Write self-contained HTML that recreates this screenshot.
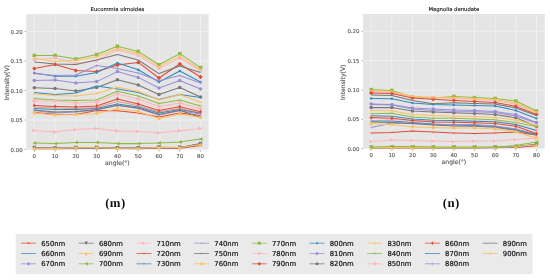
<!DOCTYPE html>
<html lang="en"><head><meta charset="utf-8"><title>Intensity vs angle</title>
<style>html,body{margin:0;padding:0;background:#fff}svg{display:block}text{text-rendering:geometricPrecision}.lt{stroke:#111;stroke-width:.18px}.ax text{stroke:#555;stroke-width:.12px}.ax text.tt{stroke:#111}</style></head>
<body>
<svg width="550" height="280" viewBox="0 0 550 280">
<rect width="550" height="280" fill="#fff"/>
<rect x="26.2" y="14.1" width="182.4" height="135.9" fill="#E5E5E5"/>
<path d="M34.3 14.1V150M55.08 14.1V150M75.86 14.1V150M96.64 14.1V150M117.42 14.1V150M138.2 14.1V150M158.98 14.1V150M179.76 14.1V150M200.54 14.1V150M26.2 149.5H208.6M26.2 120H208.6M26.2 90.5H208.6M26.2 61H208.6M26.2 31.5H208.6" stroke="#fff" stroke-width="0.45" stroke-opacity="0.9" fill="none"/>
<path d="M34.3 150v1.6M55.08 150v1.6M75.86 150v1.6M96.64 150v1.6M117.42 150v1.6M138.2 150v1.6M158.98 150v1.6M179.76 150v1.6M200.54 150v1.6M26.2 149.5h-1.6M26.2 120h-1.6M26.2 90.5h-1.6M26.2 61h-1.6M26.2 31.5h-1.6" stroke="#555" stroke-width="0.45" fill="none"/>
<g clip-path="none">
<polyline points="34.3,148.6 55.08,148.7 75.86,148.4 96.64,148.4 117.42,148.6 138.2,148.6 158.98,148.2 179.76,148.3 200.54,145.5" fill="none" stroke="#E24A33" stroke-width="1.05" stroke-linejoin="round"/><circle cx="34.3" cy="148.6" r="1.05" fill="#E24A33"/><circle cx="55.08" cy="148.7" r="1.05" fill="#E24A33"/><circle cx="75.86" cy="148.4" r="1.05" fill="#E24A33"/><circle cx="96.64" cy="148.4" r="1.05" fill="#E24A33"/><circle cx="117.42" cy="148.6" r="1.05" fill="#E24A33"/><circle cx="138.2" cy="148.6" r="1.05" fill="#E24A33"/><circle cx="158.98" cy="148.2" r="1.05" fill="#E24A33"/><circle cx="179.76" cy="148.3" r="1.05" fill="#E24A33"/><circle cx="200.54" cy="145.5" r="1.05" fill="#E24A33"/>
<polyline points="34.3,148.3 55.08,148.4 75.86,148 96.64,148 117.42,148.3 138.2,148.3 158.98,147.6 179.76,147.8 200.54,143.4" fill="none" stroke="#348ABD" stroke-width="1.05" stroke-linejoin="round"/>
<polyline points="34.3,148 55.08,148.2 75.86,147.8 96.64,147.8 117.42,148.1 138.2,148.1 158.98,147.4 179.76,147.6 200.54,144" fill="none" stroke="#988ED5" stroke-width="1.05" stroke-linejoin="round"/><circle cx="34.3" cy="148" r="1.75" fill="#988ED5"/><circle cx="55.08" cy="148.2" r="1.75" fill="#988ED5"/><circle cx="75.86" cy="147.8" r="1.75" fill="#988ED5"/><circle cx="96.64" cy="147.8" r="1.75" fill="#988ED5"/><circle cx="117.42" cy="148.1" r="1.75" fill="#988ED5"/><circle cx="138.2" cy="148.1" r="1.75" fill="#988ED5"/><circle cx="158.98" cy="147.4" r="1.75" fill="#988ED5"/><circle cx="179.76" cy="147.6" r="1.75" fill="#988ED5"/><circle cx="200.54" cy="144" r="1.75" fill="#988ED5"/>
<polyline points="34.3,147.8 55.08,148.1 75.86,147.6 96.64,147.6 117.42,148 138.2,148 158.98,147.3 179.76,147.5 200.54,143.8" fill="none" stroke="#777777" stroke-width="1.05" stroke-linejoin="round"/><polygon points="32.34,145.84 36.26,145.84 34.3,149.76" fill="#777777"/><polygon points="53.12,146.14 57.04,146.14 55.08,150.06" fill="#777777"/><polygon points="73.9,145.64 77.82,145.64 75.86,149.56" fill="#777777"/><polygon points="94.68,145.64 98.6,145.64 96.64,149.56" fill="#777777"/><polygon points="115.46,146.04 119.38,146.04 117.42,149.96" fill="#777777"/><polygon points="136.24,146.04 140.16,146.04 138.2,149.96" fill="#777777"/><polygon points="157.02,145.34 160.94,145.34 158.98,149.26" fill="#777777"/><polygon points="177.8,145.54 181.72,145.54 179.76,149.46" fill="#777777"/><polygon points="198.58,141.84 202.5,141.84 200.54,145.76" fill="#777777"/>
<polyline points="34.3,148.2 55.08,148.4 75.86,147.7 96.64,147.8 117.42,148.2 138.2,148.2 158.98,147.4 179.76,147.6 200.54,144.6" fill="none" stroke="#FBC15E" stroke-width="1.05" stroke-linejoin="round"/><polygon points="32.34,150.16 36.26,150.16 34.3,146.24" fill="#FBC15E"/><polygon points="53.12,150.36 57.04,150.36 55.08,146.44" fill="#FBC15E"/><polygon points="73.9,149.66 77.82,149.66 75.86,145.74" fill="#FBC15E"/><polygon points="94.68,149.76 98.6,149.76 96.64,145.84" fill="#FBC15E"/><polygon points="115.46,150.16 119.38,150.16 117.42,146.24" fill="#FBC15E"/><polygon points="136.24,150.16 140.16,150.16 138.2,146.24" fill="#FBC15E"/><polygon points="157.02,149.36 160.94,149.36 158.98,145.44" fill="#FBC15E"/><polygon points="177.8,149.56 181.72,149.56 179.76,145.64" fill="#FBC15E"/><polygon points="198.58,146.56 202.5,146.56 200.54,142.64" fill="#FBC15E"/>
<polyline points="34.3,143 55.08,143.6 75.86,142.4 96.64,142.4 117.42,143.6 138.2,143.6 158.98,143 179.76,142 200.54,139" fill="none" stroke="#8EBA42" stroke-width="1.05" stroke-linejoin="round"/><polygon points="36.26,141.04 36.26,144.96 32.34,143" fill="#8EBA42"/><polygon points="57.04,141.64 57.04,145.56 53.12,143.6" fill="#8EBA42"/><polygon points="77.82,140.44 77.82,144.36 73.9,142.4" fill="#8EBA42"/><polygon points="98.6,140.44 98.6,144.36 94.68,142.4" fill="#8EBA42"/><polygon points="119.38,141.64 119.38,145.56 115.46,143.6" fill="#8EBA42"/><polygon points="140.16,141.64 140.16,145.56 136.24,143.6" fill="#8EBA42"/><polygon points="160.94,141.04 160.94,144.96 157.02,143" fill="#8EBA42"/><polygon points="181.72,140.04 181.72,143.96 177.8,142" fill="#8EBA42"/><polygon points="202.5,137.04 202.5,140.96 198.58,139" fill="#8EBA42"/>
<polyline points="34.3,130.4 55.08,132 75.86,129.6 96.64,128.6 117.42,131 138.2,131.6 158.98,132.8 179.76,130.8 200.54,128.5" fill="none" stroke="#FFB5B8" stroke-width="1.05" stroke-linejoin="round"/><polygon points="32.34,128.44 32.34,132.36 36.26,130.4" fill="#FFB5B8"/><polygon points="53.12,130.04 53.12,133.96 57.04,132" fill="#FFB5B8"/><polygon points="73.9,127.64 73.9,131.56 77.82,129.6" fill="#FFB5B8"/><polygon points="94.68,126.64 94.68,130.56 98.6,128.6" fill="#FFB5B8"/><polygon points="115.46,129.04 115.46,132.96 119.38,131" fill="#FFB5B8"/><polygon points="136.24,129.64 136.24,133.56 140.16,131.6" fill="#FFB5B8"/><polygon points="157.02,130.84 157.02,134.76 160.94,132.8" fill="#FFB5B8"/><polygon points="177.8,128.84 177.8,132.76 181.72,130.8" fill="#FFB5B8"/><polygon points="198.58,126.54 198.58,130.46 202.5,128.5" fill="#FFB5B8"/>
<polyline points="34.3,112.4 55.08,114.2 75.86,114.4 96.64,110.6 117.42,110.8 138.2,113 158.98,117 179.76,113 200.54,115.6" fill="none" stroke="#E24A33" stroke-width="1.05" stroke-linejoin="round"/><path d="M34.3 112.4V114.15M34.3 112.4L32.9 111.53M34.3 112.4L35.7 111.53" stroke="#E24A33" stroke-width="0.35" fill="none"/><path d="M55.08 114.2V115.95M55.08 114.2L53.68 113.33M55.08 114.2L56.48 113.33" stroke="#E24A33" stroke-width="0.35" fill="none"/><path d="M75.86 114.4V116.15M75.86 114.4L74.46 113.53M75.86 114.4L77.26 113.53" stroke="#E24A33" stroke-width="0.35" fill="none"/><path d="M96.64 110.6V112.35M96.64 110.6L95.24 109.72M96.64 110.6L98.04 109.72" stroke="#E24A33" stroke-width="0.35" fill="none"/><path d="M117.42 110.8V112.55M117.42 110.8L116.02 109.92M117.42 110.8L118.82 109.92" stroke="#E24A33" stroke-width="0.35" fill="none"/><path d="M138.2 113V114.75M138.2 113L136.8 112.12M138.2 113L139.6 112.12" stroke="#E24A33" stroke-width="0.35" fill="none"/><path d="M158.98 117V118.75M158.98 117L157.58 116.12M158.98 117L160.38 116.12" stroke="#E24A33" stroke-width="0.35" fill="none"/><path d="M179.76 113V114.75M179.76 113L178.36 112.12M179.76 113L181.16 112.12" stroke="#E24A33" stroke-width="0.35" fill="none"/><path d="M200.54 115.6V117.35M200.54 115.6L199.14 114.72M200.54 115.6L201.94 114.72" stroke="#E24A33" stroke-width="0.35" fill="none"/>
<polyline points="34.3,108.6 55.08,109.6 75.86,109.4 96.64,108.6 117.42,104 138.2,107 158.98,113 179.76,109.5 200.54,113.2" fill="none" stroke="#348ABD" stroke-width="1.05" stroke-linejoin="round"/><path d="M34.3 108.6V110.35M34.3 108.6L32.9 107.72M34.3 108.6L35.7 107.72" stroke="#348ABD" stroke-width="0.35" fill="none"/><path d="M55.08 109.6V111.35M55.08 109.6L53.68 108.72M55.08 109.6L56.48 108.72" stroke="#348ABD" stroke-width="0.35" fill="none"/><path d="M75.86 109.4V111.15M75.86 109.4L74.46 108.53M75.86 109.4L77.26 108.53" stroke="#348ABD" stroke-width="0.35" fill="none"/><path d="M96.64 108.6V110.35M96.64 108.6L95.24 107.72M96.64 108.6L98.04 107.72" stroke="#348ABD" stroke-width="0.35" fill="none"/><path d="M117.42 104V105.75M117.42 104L116.02 103.12M117.42 104L118.82 103.12" stroke="#348ABD" stroke-width="0.35" fill="none"/><path d="M138.2 107V108.75M138.2 107L136.8 106.12M138.2 107L139.6 106.12" stroke="#348ABD" stroke-width="0.35" fill="none"/><path d="M158.98 113V114.75M158.98 113L157.58 112.12M158.98 113L160.38 112.12" stroke="#348ABD" stroke-width="0.35" fill="none"/><path d="M179.76 109.5V111.25M179.76 109.5L178.36 108.62M179.76 109.5L181.16 108.62" stroke="#348ABD" stroke-width="0.35" fill="none"/><path d="M200.54 113.2V114.95M200.54 113.2L199.14 112.33M200.54 113.2L201.94 112.33" stroke="#348ABD" stroke-width="0.35" fill="none"/>
<polyline points="34.3,110.6 55.08,113 75.86,112 96.64,110 117.42,105 138.2,108.6 158.98,115 179.76,110.8 200.54,114" fill="none" stroke="#988ED5" stroke-width="1.05" stroke-linejoin="round"/><path d="M34.3 110.6V112.35M34.3 110.6L32.9 109.72M34.3 110.6L35.7 109.72" stroke="#988ED5" stroke-width="0.35" fill="none"/><path d="M55.08 113V114.75M55.08 113L53.68 112.12M55.08 113L56.48 112.12" stroke="#988ED5" stroke-width="0.35" fill="none"/><path d="M75.86 112V113.75M75.86 112L74.46 111.12M75.86 112L77.26 111.12" stroke="#988ED5" stroke-width="0.35" fill="none"/><path d="M96.64 110V111.75M96.64 110L95.24 109.12M96.64 110L98.04 109.12" stroke="#988ED5" stroke-width="0.35" fill="none"/><path d="M117.42 105V106.75M117.42 105L116.02 104.12M117.42 105L118.82 104.12" stroke="#988ED5" stroke-width="0.35" fill="none"/><path d="M138.2 108.6V110.35M138.2 108.6L136.8 107.72M138.2 108.6L139.6 107.72" stroke="#988ED5" stroke-width="0.35" fill="none"/><path d="M158.98 115V116.75M158.98 115L157.58 114.12M158.98 115L160.38 114.12" stroke="#988ED5" stroke-width="0.35" fill="none"/><path d="M179.76 110.8V112.55M179.76 110.8L178.36 109.92M179.76 110.8L181.16 109.92" stroke="#988ED5" stroke-width="0.35" fill="none"/><path d="M200.54 114V115.75M200.54 114L199.14 113.12M200.54 114L201.94 113.12" stroke="#988ED5" stroke-width="0.35" fill="none"/>
<polyline points="34.3,110 55.08,112 75.86,111.6 96.64,109.6 117.42,105.6 138.2,108 158.98,114.4 179.76,110.3 200.54,117.5" fill="none" stroke="#777777" stroke-width="1.05" stroke-linejoin="round"/><path d="M34.3 110V111.75M34.3 110L32.9 109.12M34.3 110L35.7 109.12" stroke="#777777" stroke-width="0.35" fill="none"/><path d="M55.08 112V113.75M55.08 112L53.68 111.12M55.08 112L56.48 111.12" stroke="#777777" stroke-width="0.35" fill="none"/><path d="M75.86 111.6V113.35M75.86 111.6L74.46 110.72M75.86 111.6L77.26 110.72" stroke="#777777" stroke-width="0.35" fill="none"/><path d="M96.64 109.6V111.35M96.64 109.6L95.24 108.72M96.64 109.6L98.04 108.72" stroke="#777777" stroke-width="0.35" fill="none"/><path d="M117.42 105.6V107.35M117.42 105.6L116.02 104.72M117.42 105.6L118.82 104.72" stroke="#777777" stroke-width="0.35" fill="none"/><path d="M138.2 108V109.75M138.2 108L136.8 107.12M138.2 108L139.6 107.12" stroke="#777777" stroke-width="0.35" fill="none"/><path d="M158.98 114.4V116.15M158.98 114.4L157.58 113.53M158.98 114.4L160.38 113.53" stroke="#777777" stroke-width="0.35" fill="none"/><path d="M179.76 110.3V112.05M179.76 110.3L178.36 109.42M179.76 110.3L181.16 109.42" stroke="#777777" stroke-width="0.35" fill="none"/><path d="M200.54 117.5V119.25M200.54 117.5L199.14 116.62M200.54 117.5L201.94 116.62" stroke="#777777" stroke-width="0.35" fill="none"/>
<polyline points="34.3,113 55.08,115 75.86,114.6 96.64,113.4 117.42,108.8 138.2,111.6 158.98,118.5 179.76,113.9 200.54,117.6" fill="none" stroke="#FBC15E" stroke-width="1.05" stroke-linejoin="round"/><circle cx="34.3" cy="113" r="1.75" fill="#FBC15E"/><circle cx="55.08" cy="115" r="1.75" fill="#FBC15E"/><circle cx="75.86" cy="114.6" r="1.75" fill="#FBC15E"/><circle cx="96.64" cy="113.4" r="1.75" fill="#FBC15E"/><circle cx="117.42" cy="108.8" r="1.75" fill="#FBC15E"/><circle cx="138.2" cy="111.6" r="1.75" fill="#FBC15E"/><circle cx="158.98" cy="118.5" r="1.75" fill="#FBC15E"/><circle cx="179.76" cy="113.9" r="1.75" fill="#FBC15E"/><circle cx="200.54" cy="117.6" r="1.75" fill="#FBC15E"/>
<polyline points="34.3,55.4 55.08,55.4 75.86,59 96.64,54.6 117.42,46.2 138.2,51.4 158.98,64.8 179.76,53.6 200.54,67.6" fill="none" stroke="#8EBA42" stroke-width="1.05" stroke-linejoin="round"/><rect x="32.55" y="53.65" width="3.5" height="3.5" fill="#8EBA42"/><rect x="53.33" y="53.65" width="3.5" height="3.5" fill="#8EBA42"/><rect x="74.11" y="57.25" width="3.5" height="3.5" fill="#8EBA42"/><rect x="94.89" y="52.85" width="3.5" height="3.5" fill="#8EBA42"/><rect x="115.67" y="44.45" width="3.5" height="3.5" fill="#8EBA42"/><rect x="136.45" y="49.65" width="3.5" height="3.5" fill="#8EBA42"/><rect x="157.23" y="63.05" width="3.5" height="3.5" fill="#8EBA42"/><rect x="178.01" y="51.85" width="3.5" height="3.5" fill="#8EBA42"/><rect x="198.79" y="65.85" width="3.5" height="3.5" fill="#8EBA42"/>
<polyline points="34.3,59.7 55.08,58 75.86,63.6 96.64,60.6 117.42,50 138.2,55.6 158.98,68.4 179.76,58.4 200.54,70.6" fill="none" stroke="#FFB5B8" stroke-width="1.05" stroke-linejoin="round"/><polygon points="34.3,57.74 36.16,59.09 35.45,61.29 33.15,61.29 32.44,59.09" fill="#FFB5B8"/><polygon points="55.08,56.04 56.94,57.39 56.23,59.59 53.93,59.59 53.22,57.39" fill="#FFB5B8"/><polygon points="75.86,61.64 77.72,62.99 77.01,65.19 74.71,65.19 74,62.99" fill="#FFB5B8"/><polygon points="96.64,58.64 98.5,59.99 97.79,62.19 95.49,62.19 94.78,59.99" fill="#FFB5B8"/><polygon points="117.42,48.04 119.28,49.39 118.57,51.59 116.27,51.59 115.56,49.39" fill="#FFB5B8"/><polygon points="138.2,53.64 140.06,54.99 139.35,57.19 137.05,57.19 136.34,54.99" fill="#FFB5B8"/><polygon points="158.98,66.44 160.84,67.79 160.13,69.99 157.83,69.99 157.12,67.79" fill="#FFB5B8"/><polygon points="179.76,56.44 181.62,57.79 180.91,59.99 178.61,59.99 177.9,57.79" fill="#FFB5B8"/><polygon points="200.54,68.64 202.4,69.99 201.69,72.19 199.39,72.19 198.68,69.99" fill="#FFB5B8"/>
<polyline points="34.3,68.6 55.08,64.4 75.86,70.6 96.64,71.6 117.42,65 138.2,62.4 158.98,78 179.76,64 200.54,77" fill="none" stroke="#E24A33" stroke-width="1.05" stroke-linejoin="round"/><polygon points="34.3,66.41 36.49,68.6 34.3,70.79 32.11,68.6" fill="#E24A33"/><polygon points="55.08,62.21 57.27,64.4 55.08,66.59 52.89,64.4" fill="#E24A33"/><polygon points="75.86,68.41 78.05,70.6 75.86,72.79 73.67,70.6" fill="#E24A33"/><polygon points="96.64,69.41 98.83,71.6 96.64,73.79 94.45,71.6" fill="#E24A33"/><polygon points="117.42,62.81 119.61,65 117.42,67.19 115.23,65" fill="#E24A33"/><polygon points="138.2,60.21 140.39,62.4 138.2,64.59 136.01,62.4" fill="#E24A33"/><polygon points="158.98,75.81 161.17,78 158.98,80.19 156.79,78" fill="#E24A33"/><polygon points="179.76,61.81 181.95,64 179.76,66.19 177.57,64" fill="#E24A33"/><polygon points="200.54,74.81 202.73,77 200.54,79.19 198.35,77" fill="#E24A33"/>
<polyline points="34.3,73 55.08,76.2 75.86,76.2 96.64,72.6 117.42,63 138.2,69.8 158.98,82 179.76,71 200.54,82" fill="none" stroke="#348ABD" stroke-width="1.05" stroke-linejoin="round"/><circle cx="34.3" cy="73" r="1.22" fill="#348ABD"/><circle cx="55.08" cy="76.2" r="1.22" fill="#348ABD"/><circle cx="75.86" cy="76.2" r="1.22" fill="#348ABD"/><circle cx="96.64" cy="72.6" r="1.22" fill="#348ABD"/><circle cx="117.42" cy="63" r="1.22" fill="#348ABD"/><circle cx="138.2" cy="69.8" r="1.22" fill="#348ABD"/><circle cx="158.98" cy="82" r="1.22" fill="#348ABD"/><circle cx="179.76" cy="71" r="1.22" fill="#348ABD"/><circle cx="200.54" cy="82" r="1.22" fill="#348ABD"/>
<polyline points="34.3,80.6 55.08,80 75.86,83 96.64,81.6 117.42,71.6 138.2,77.4 158.98,88 179.76,80.6 200.54,89" fill="none" stroke="#988ED5" stroke-width="1.05" stroke-linejoin="round"/><circle cx="34.3" cy="80.6" r="1.75" fill="#988ED5"/><circle cx="55.08" cy="80" r="1.75" fill="#988ED5"/><circle cx="75.86" cy="83" r="1.75" fill="#988ED5"/><circle cx="96.64" cy="81.6" r="1.75" fill="#988ED5"/><circle cx="117.42" cy="71.6" r="1.75" fill="#988ED5"/><circle cx="138.2" cy="77.4" r="1.75" fill="#988ED5"/><circle cx="158.98" cy="88" r="1.75" fill="#988ED5"/><circle cx="179.76" cy="80.6" r="1.75" fill="#988ED5"/><circle cx="200.54" cy="89" r="1.75" fill="#988ED5"/>
<polyline points="34.3,87.8 55.08,88.4 75.86,91 96.64,87.5 117.42,79.8 138.2,85.1 158.98,94.4 179.76,87.6 200.54,97" fill="none" stroke="#777777" stroke-width="1.05" stroke-linejoin="round"/><circle cx="34.3" cy="87.8" r="1.75" fill="#777777"/><circle cx="55.08" cy="88.4" r="1.75" fill="#777777"/><circle cx="75.86" cy="91" r="1.75" fill="#777777"/><circle cx="96.64" cy="87.5" r="1.75" fill="#777777"/><circle cx="117.42" cy="79.8" r="1.75" fill="#777777"/><circle cx="138.2" cy="85.1" r="1.75" fill="#777777"/><circle cx="158.98" cy="94.4" r="1.75" fill="#777777"/><circle cx="179.76" cy="87.6" r="1.75" fill="#777777"/><circle cx="200.54" cy="97" r="1.75" fill="#777777"/>
<polyline points="34.3,58.2 55.08,61.5 75.86,60.3 96.64,57 117.42,48.4 138.2,53.6 158.98,66.6 179.76,56.4 200.54,69.6" fill="none" stroke="#FBC15E" stroke-width="1.05" stroke-linejoin="round"/><path d="M32.55 58.2H36.05M34.3 56.45V59.95" stroke="#FBC15E" stroke-width="0.4" fill="none"/><path d="M53.33 61.5H56.83M55.08 59.75V63.25" stroke="#FBC15E" stroke-width="0.4" fill="none"/><path d="M74.11 60.3H77.61M75.86 58.55V62.05" stroke="#FBC15E" stroke-width="0.4" fill="none"/><path d="M94.89 57H98.39M96.64 55.25V58.75" stroke="#FBC15E" stroke-width="0.4" fill="none"/><path d="M115.67 48.4H119.17M117.42 46.65V50.15" stroke="#FBC15E" stroke-width="0.4" fill="none"/><path d="M136.45 53.6H139.95M138.2 51.85V55.35" stroke="#FBC15E" stroke-width="0.4" fill="none"/><path d="M157.23 66.6H160.73M158.98 64.85V68.35" stroke="#FBC15E" stroke-width="0.4" fill="none"/><path d="M178.01 56.4H181.51M179.76 54.65V58.15" stroke="#FBC15E" stroke-width="0.4" fill="none"/><path d="M198.79 69.6H202.29M200.54 67.85V71.35" stroke="#FBC15E" stroke-width="0.4" fill="none"/>
<polyline points="34.3,98.5 55.08,100 75.86,100.6 96.64,100 117.42,91.3 138.2,96 158.98,103.5 179.76,100 200.54,106" fill="none" stroke="#8EBA42" stroke-width="1.05" stroke-linejoin="round"/><path d="M32.9 97.1L35.7 99.9M32.9 99.9L35.7 97.1" stroke="#8EBA42" stroke-width="0.5" fill="none"/><path d="M53.68 98.6L56.48 101.4M53.68 101.4L56.48 98.6" stroke="#8EBA42" stroke-width="0.5" fill="none"/><path d="M74.46 99.2L77.26 102M74.46 102L77.26 99.2" stroke="#8EBA42" stroke-width="0.5" fill="none"/><path d="M95.24 98.6L98.04 101.4M95.24 101.4L98.04 98.6" stroke="#8EBA42" stroke-width="0.5" fill="none"/><path d="M116.02 89.9L118.82 92.7M116.02 92.7L118.82 89.9" stroke="#8EBA42" stroke-width="0.5" fill="none"/><path d="M136.8 94.6L139.6 97.4M136.8 97.4L139.6 94.6" stroke="#8EBA42" stroke-width="0.5" fill="none"/><path d="M157.58 102.1L160.38 104.9M157.58 104.9L160.38 102.1" stroke="#8EBA42" stroke-width="0.5" fill="none"/><path d="M178.36 98.6L181.16 101.4M178.36 101.4L181.16 98.6" stroke="#8EBA42" stroke-width="0.5" fill="none"/><path d="M199.14 104.6L201.94 107.4M199.14 107.4L201.94 104.6" stroke="#8EBA42" stroke-width="0.5" fill="none"/>
<polyline points="34.3,101 55.08,101 75.86,103 96.64,102 117.42,94 138.2,99 158.98,106.5 179.76,103 200.54,108.5" fill="none" stroke="#FFB5B8" stroke-width="1.05" stroke-linejoin="round"/><polygon points="34.99,98.92 34.99,100.31 36.38,100.31 36.38,101.69 34.99,101.69 34.99,103.08 33.61,103.08 33.61,101.69 32.22,101.69 32.22,100.31 33.61,100.31 33.61,98.92" fill="#FFB5B8"/><polygon points="55.77,98.92 55.77,100.31 57.16,100.31 57.16,101.69 55.77,101.69 55.77,103.08 54.39,103.08 54.39,101.69 53,101.69 53,100.31 54.39,100.31 54.39,98.92" fill="#FFB5B8"/><polygon points="76.55,100.92 76.55,102.31 77.94,102.31 77.94,103.69 76.55,103.69 76.55,105.08 75.17,105.08 75.17,103.69 73.78,103.69 73.78,102.31 75.17,102.31 75.17,100.92" fill="#FFB5B8"/><polygon points="97.33,99.92 97.33,101.31 98.72,101.31 98.72,102.69 97.33,102.69 97.33,104.08 95.95,104.08 95.95,102.69 94.56,102.69 94.56,101.31 95.95,101.31 95.95,99.92" fill="#FFB5B8"/><polygon points="118.11,91.92 118.11,93.31 119.5,93.31 119.5,94.69 118.11,94.69 118.11,96.08 116.73,96.08 116.73,94.69 115.34,94.69 115.34,93.31 116.73,93.31 116.73,91.92" fill="#FFB5B8"/><polygon points="138.89,96.92 138.89,98.31 140.28,98.31 140.28,99.69 138.89,99.69 138.89,101.08 137.51,101.08 137.51,99.69 136.12,99.69 136.12,98.31 137.51,98.31 137.51,96.92" fill="#FFB5B8"/><polygon points="159.67,104.42 159.67,105.81 161.06,105.81 161.06,107.19 159.67,107.19 159.67,108.58 158.29,108.58 158.29,107.19 156.9,107.19 156.9,105.81 158.29,105.81 158.29,104.42" fill="#FFB5B8"/><polygon points="180.45,100.92 180.45,102.31 181.84,102.31 181.84,103.69 180.45,103.69 180.45,105.08 179.07,105.08 179.07,103.69 177.68,103.69 177.68,102.31 179.07,102.31 179.07,100.92" fill="#FFB5B8"/><polygon points="201.23,106.42 201.23,107.81 202.62,107.81 202.62,109.19 201.23,109.19 201.23,110.58 199.85,110.58 199.85,109.19 198.46,109.19 198.46,107.81 199.85,107.81 199.85,106.42" fill="#FFB5B8"/>
<polyline points="34.3,103 55.08,103.5 75.86,105 96.64,104 117.42,96.4 138.2,101 158.98,108.5 179.76,105 200.54,110" fill="none" stroke="#F7C4C6" stroke-width="0.5" stroke-linejoin="round"/>
<polyline points="34.3,105.4 55.08,106.4 75.86,107 96.64,106 117.42,99 138.2,104 158.98,110.6 179.76,106.8 200.54,111.8" fill="none" stroke="#E24A33" stroke-width="1.05" stroke-linejoin="round"/><polygon points="34.3,103.21 35.7,105.4 34.3,107.59 32.9,105.4" fill="#E24A33"/><polygon points="55.08,104.21 56.48,106.4 55.08,108.59 53.68,106.4" fill="#E24A33"/><polygon points="75.86,104.81 77.26,107 75.86,109.19 74.46,107" fill="#E24A33"/><polygon points="96.64,103.81 98.04,106 96.64,108.19 95.24,106" fill="#E24A33"/><polygon points="117.42,96.81 118.82,99 117.42,101.19 116.02,99" fill="#E24A33"/><polygon points="138.2,101.81 139.6,104 138.2,106.19 136.8,104" fill="#E24A33"/><polygon points="158.98,108.41 160.38,110.6 158.98,112.79 157.58,110.6" fill="#E24A33"/><polygon points="179.76,104.61 181.16,106.8 179.76,108.99 178.36,106.8" fill="#E24A33"/><polygon points="200.54,109.61 201.94,111.8 200.54,113.99 199.14,111.8" fill="#E24A33"/>
<polyline points="34.3,107 55.08,108 75.86,108.5 96.64,107.5 117.42,101.5 138.2,105.6 158.98,111.8 179.76,108.5 200.54,113" fill="none" stroke="#E24A33" stroke-width="0.5" stroke-linejoin="round"/>
<polyline points="34.3,92.4 55.08,94.4 75.86,93 96.64,86 117.42,89 138.2,92.4 158.98,99.5 179.76,94.4 200.54,97.5" fill="none" stroke="#348ABD" stroke-width="1.05" stroke-linejoin="round"/>
<polyline points="34.3,73.5 55.08,75.5 75.86,75 96.64,65.6 117.42,68.6 138.2,73 158.98,80.8 179.76,75.5 200.54,83" fill="none" stroke="#988ED5" stroke-width="1.05" stroke-linejoin="round"/><path d="M34.3 71.75V75.25" stroke="#988ED5" stroke-width="0.5" fill="none"/><path d="M55.08 73.75V77.25" stroke="#988ED5" stroke-width="0.5" fill="none"/><path d="M75.86 73.25V76.75" stroke="#988ED5" stroke-width="0.5" fill="none"/><path d="M96.64 63.85V67.35" stroke="#988ED5" stroke-width="0.5" fill="none"/><path d="M117.42 66.85V70.35" stroke="#988ED5" stroke-width="0.5" fill="none"/><path d="M138.2 71.25V74.75" stroke="#988ED5" stroke-width="0.5" fill="none"/><path d="M158.98 79.05V82.55" stroke="#988ED5" stroke-width="0.5" fill="none"/><path d="M179.76 73.75V77.25" stroke="#988ED5" stroke-width="0.5" fill="none"/><path d="M200.54 81.25V84.75" stroke="#988ED5" stroke-width="0.5" fill="none"/>
<polyline points="34.3,62 55.08,64 75.86,64.4 96.64,60 117.42,54.4 138.2,60 158.98,73.6 179.76,66 200.54,72.4" fill="none" stroke="#777777" stroke-width="1.05" stroke-linejoin="round"/>
<polyline points="34.3,94 55.08,95.6 75.86,96 96.64,93.6 117.42,87.3 138.2,91.3 158.98,100 179.76,94.4 200.54,102.2" fill="none" stroke="#FBC15E" stroke-width="1.05" stroke-linejoin="round"/><circle cx="34.3" cy="94" r="1.05" fill="#FBC15E"/><circle cx="55.08" cy="95.6" r="1.05" fill="#FBC15E"/><circle cx="75.86" cy="96" r="1.05" fill="#FBC15E"/><circle cx="96.64" cy="93.6" r="1.05" fill="#FBC15E"/><circle cx="117.42" cy="87.3" r="1.05" fill="#FBC15E"/><circle cx="138.2" cy="91.3" r="1.05" fill="#FBC15E"/><circle cx="158.98" cy="100" r="1.05" fill="#FBC15E"/><circle cx="179.76" cy="94.4" r="1.05" fill="#FBC15E"/><circle cx="200.54" cy="102.2" r="1.05" fill="#FBC15E"/>
</g>
<g class="ax" font-family="'DejaVu Sans','Liberation Sans',sans-serif" fill="#555">
<g font-size="5.4" text-anchor="middle">
<text x="34.3" y="157.7">0</text>
<text x="55.08" y="157.7">10</text>
<text x="75.86" y="157.7">20</text>
<text x="96.64" y="157.7">30</text>
<text x="117.42" y="157.7">40</text>
<text x="138.2" y="157.7">50</text>
<text x="158.98" y="157.7">60</text>
<text x="179.76" y="157.7">70</text>
<text x="200.54" y="157.7">80</text>
</g><g font-size="5.4" text-anchor="end">
<text x="22.6" y="151.5">0.00</text>
<text x="22.6" y="122">0.05</text>
<text x="22.6" y="92.5">0.10</text>
<text x="22.6" y="63">0.15</text>
<text x="22.6" y="33.5">0.20</text>
</g>
<text x="117.4" y="165.3" font-size="6.1" text-anchor="middle">angle(°)</text>
<text transform="translate(9 82.8) rotate(-90)" font-size="6.1" text-anchor="middle">Intensity(V)</text>
<text x="117.4" y="10.6" font-size="5.3" text-anchor="middle" fill="#111" class="tt">Eucommia ulmoides</text>
</g>
<rect x="363" y="14" width="181.8" height="135.1" fill="#E5E5E5"/>
<path d="M371.2 14V149.1M391.86 14V149.1M412.52 14V149.1M433.18 14V149.1M453.84 14V149.1M474.5 14V149.1M495.16 14V149.1M515.82 14V149.1M536.48 14V149.1M363 148.6H544.8M363 119.28H544.8M363 89.96H544.8M363 60.64H544.8M363 31.32H544.8" stroke="#fff" stroke-width="0.45" stroke-opacity="0.9" fill="none"/>
<path d="M371.2 149.1v1.6M391.86 149.1v1.6M412.52 149.1v1.6M433.18 149.1v1.6M453.84 149.1v1.6M474.5 149.1v1.6M495.16 149.1v1.6M515.82 149.1v1.6M536.48 149.1v1.6M363 148.6h-1.6M363 119.28h-1.6M363 89.96h-1.6M363 60.64h-1.6M363 31.32h-1.6" stroke="#555" stroke-width="0.45" fill="none"/>
<g clip-path="none">
<polyline points="371.2,147.9 391.86,147.9 412.52,147.9 433.18,147.9 453.84,147.9 474.5,147.9 495.16,147.8 515.82,147.4 536.48,145.7" fill="none" stroke="#E24A33" stroke-width="1.05" stroke-linejoin="round"/><circle cx="371.2" cy="147.9" r="1.05" fill="#E24A33"/><circle cx="391.86" cy="147.9" r="1.05" fill="#E24A33"/><circle cx="412.52" cy="147.9" r="1.05" fill="#E24A33"/><circle cx="433.18" cy="147.9" r="1.05" fill="#E24A33"/><circle cx="453.84" cy="147.9" r="1.05" fill="#E24A33"/><circle cx="474.5" cy="147.9" r="1.05" fill="#E24A33"/><circle cx="495.16" cy="147.8" r="1.05" fill="#E24A33"/><circle cx="515.82" cy="147.4" r="1.05" fill="#E24A33"/><circle cx="536.48" cy="145.7" r="1.05" fill="#E24A33"/>
<polyline points="371.2,147.7 391.86,147.7 412.52,147.7 433.18,147.7 453.84,147.7 474.5,147.7 495.16,147.5 515.82,147 536.48,144.7" fill="none" stroke="#348ABD" stroke-width="1.05" stroke-linejoin="round"/>
<polyline points="371.2,147.5 391.86,147.5 412.52,147.5 433.18,147.6 453.84,147.6 474.5,147.6 495.16,147.4 515.82,146.8 536.48,144.3" fill="none" stroke="#988ED5" stroke-width="1.05" stroke-linejoin="round"/><circle cx="371.2" cy="147.5" r="1.75" fill="#988ED5"/><circle cx="391.86" cy="147.5" r="1.75" fill="#988ED5"/><circle cx="412.52" cy="147.5" r="1.75" fill="#988ED5"/><circle cx="433.18" cy="147.6" r="1.75" fill="#988ED5"/><circle cx="453.84" cy="147.6" r="1.75" fill="#988ED5"/><circle cx="474.5" cy="147.6" r="1.75" fill="#988ED5"/><circle cx="495.16" cy="147.4" r="1.75" fill="#988ED5"/><circle cx="515.82" cy="146.8" r="1.75" fill="#988ED5"/><circle cx="536.48" cy="144.3" r="1.75" fill="#988ED5"/>
<polyline points="371.2,147.4 391.86,147.4 412.52,147.4 433.18,147.4 453.84,147.4 474.5,147.4 495.16,147.2 515.82,146.6 536.48,144.5" fill="none" stroke="#777777" stroke-width="1.05" stroke-linejoin="round"/><polygon points="369.24,145.44 373.16,145.44 371.2,149.36" fill="#777777"/><polygon points="389.9,145.44 393.82,145.44 391.86,149.36" fill="#777777"/><polygon points="410.56,145.44 414.48,145.44 412.52,149.36" fill="#777777"/><polygon points="431.22,145.44 435.14,145.44 433.18,149.36" fill="#777777"/><polygon points="451.88,145.44 455.8,145.44 453.84,149.36" fill="#777777"/><polygon points="472.54,145.44 476.46,145.44 474.5,149.36" fill="#777777"/><polygon points="493.2,145.24 497.12,145.24 495.16,149.16" fill="#777777"/><polygon points="513.86,144.64 517.78,144.64 515.82,148.56" fill="#777777"/><polygon points="534.52,142.54 538.44,142.54 536.48,146.46" fill="#777777"/>
<polyline points="371.2,147.6 391.86,147.6 412.52,147.6 433.18,147.6 453.84,147.6 474.5,147.6 495.16,147.3 515.82,146.5 536.48,145.1" fill="none" stroke="#FBC15E" stroke-width="1.05" stroke-linejoin="round"/><polygon points="369.24,149.56 373.16,149.56 371.2,145.64" fill="#FBC15E"/><polygon points="389.9,149.56 393.82,149.56 391.86,145.64" fill="#FBC15E"/><polygon points="410.56,149.56 414.48,149.56 412.52,145.64" fill="#FBC15E"/><polygon points="431.22,149.56 435.14,149.56 433.18,145.64" fill="#FBC15E"/><polygon points="451.88,149.56 455.8,149.56 453.84,145.64" fill="#FBC15E"/><polygon points="472.54,149.56 476.46,149.56 474.5,145.64" fill="#FBC15E"/><polygon points="493.2,149.26 497.12,149.26 495.16,145.34" fill="#FBC15E"/><polygon points="513.86,148.46 517.78,148.46 515.82,144.54" fill="#FBC15E"/><polygon points="534.52,147.06 538.44,147.06 536.48,143.14" fill="#FBC15E"/>
<polyline points="371.2,147 391.86,146.4 412.52,146.4 433.18,147 453.84,147 474.5,147 495.16,147 515.82,145.6 536.48,142" fill="none" stroke="#8EBA42" stroke-width="1.05" stroke-linejoin="round"/><polygon points="373.16,145.04 373.16,148.96 369.24,147" fill="#8EBA42"/><polygon points="393.82,144.44 393.82,148.36 389.9,146.4" fill="#8EBA42"/><polygon points="414.48,144.44 414.48,148.36 410.56,146.4" fill="#8EBA42"/><polygon points="435.14,145.04 435.14,148.96 431.22,147" fill="#8EBA42"/><polygon points="455.8,145.04 455.8,148.96 451.88,147" fill="#8EBA42"/><polygon points="476.46,145.04 476.46,148.96 472.54,147" fill="#8EBA42"/><polygon points="497.12,145.04 497.12,148.96 493.2,147" fill="#8EBA42"/><polygon points="517.78,143.64 517.78,147.56 513.86,145.6" fill="#8EBA42"/><polygon points="538.44,140.04 538.44,143.96 534.52,142" fill="#8EBA42"/>
<polyline points="371.2,141.4 391.86,140 412.52,140.4 433.18,141 453.84,141.4 474.5,141 495.16,141 515.82,139.6 536.48,138" fill="none" stroke="#FFB5B8" stroke-width="1.05" stroke-linejoin="round"/><polygon points="369.24,139.44 369.24,143.36 373.16,141.4" fill="#FFB5B8"/><polygon points="389.9,138.04 389.9,141.96 393.82,140" fill="#FFB5B8"/><polygon points="410.56,138.44 410.56,142.36 414.48,140.4" fill="#FFB5B8"/><polygon points="431.22,139.04 431.22,142.96 435.14,141" fill="#FFB5B8"/><polygon points="451.88,139.44 451.88,143.36 455.8,141.4" fill="#FFB5B8"/><polygon points="472.54,139.04 472.54,142.96 476.46,141" fill="#FFB5B8"/><polygon points="493.2,139.04 493.2,142.96 497.12,141" fill="#FFB5B8"/><polygon points="513.86,137.64 513.86,141.56 517.78,139.6" fill="#FFB5B8"/><polygon points="534.52,136.04 534.52,139.96 538.44,138" fill="#FFB5B8"/>
<polyline points="371.2,133 391.86,132.4 412.52,131 433.18,132 453.84,133 474.5,133.6 495.16,133 515.82,132 536.48,135" fill="none" stroke="#E24A33" stroke-width="1.05" stroke-linejoin="round"/><path d="M371.2 133V134.75M371.2 133L369.8 132.12M371.2 133L372.6 132.12" stroke="#E24A33" stroke-width="0.35" fill="none"/><path d="M391.86 132.4V134.15M391.86 132.4L390.46 131.53M391.86 132.4L393.26 131.53" stroke="#E24A33" stroke-width="0.35" fill="none"/><path d="M412.52 131V132.75M412.52 131L411.12 130.12M412.52 131L413.92 130.12" stroke="#E24A33" stroke-width="0.35" fill="none"/><path d="M433.18 132V133.75M433.18 132L431.78 131.12M433.18 132L434.58 131.12" stroke="#E24A33" stroke-width="0.35" fill="none"/><path d="M453.84 133V134.75M453.84 133L452.44 132.12M453.84 133L455.24 132.12" stroke="#E24A33" stroke-width="0.35" fill="none"/><path d="M474.5 133.6V135.35M474.5 133.6L473.1 132.72M474.5 133.6L475.9 132.72" stroke="#E24A33" stroke-width="0.35" fill="none"/><path d="M495.16 133V134.75M495.16 133L493.76 132.12M495.16 133L496.56 132.12" stroke="#E24A33" stroke-width="0.35" fill="none"/><path d="M515.82 132V133.75M515.82 132L514.42 131.12M515.82 132L517.22 131.12" stroke="#E24A33" stroke-width="0.35" fill="none"/><path d="M536.48 135V136.75M536.48 135L535.08 134.12M536.48 135L537.88 134.12" stroke="#E24A33" stroke-width="0.35" fill="none"/>
<polyline points="371.2,121 391.86,121 412.52,122.4 433.18,124 453.84,125 474.5,125.6 495.16,126.5 515.82,129.6 536.48,134.2" fill="none" stroke="#348ABD" stroke-width="1.05" stroke-linejoin="round"/><path d="M371.2 121V122.75M371.2 121L369.8 120.12M371.2 121L372.6 120.12" stroke="#348ABD" stroke-width="0.35" fill="none"/><path d="M391.86 121V122.75M391.86 121L390.46 120.12M391.86 121L393.26 120.12" stroke="#348ABD" stroke-width="0.35" fill="none"/><path d="M412.52 122.4V124.15M412.52 122.4L411.12 121.53M412.52 122.4L413.92 121.53" stroke="#348ABD" stroke-width="0.35" fill="none"/><path d="M433.18 124V125.75M433.18 124L431.78 123.12M433.18 124L434.58 123.12" stroke="#348ABD" stroke-width="0.35" fill="none"/><path d="M453.84 125V126.75M453.84 125L452.44 124.12M453.84 125L455.24 124.12" stroke="#348ABD" stroke-width="0.35" fill="none"/><path d="M474.5 125.6V127.35M474.5 125.6L473.1 124.72M474.5 125.6L475.9 124.72" stroke="#348ABD" stroke-width="0.35" fill="none"/><path d="M495.16 126.5V128.25M495.16 126.5L493.76 125.62M495.16 126.5L496.56 125.62" stroke="#348ABD" stroke-width="0.35" fill="none"/><path d="M515.82 129.6V131.35M515.82 129.6L514.42 128.72M515.82 129.6L517.22 128.72" stroke="#348ABD" stroke-width="0.35" fill="none"/><path d="M536.48 134.2V135.95M536.48 134.2L535.08 133.32M536.48 134.2L537.88 133.32" stroke="#348ABD" stroke-width="0.35" fill="none"/>
<polyline points="371.2,127.6 391.86,123 412.52,123.6 433.18,124.6 453.84,124.6 474.5,124.6 495.16,126 515.82,129 536.48,134.4" fill="none" stroke="#988ED5" stroke-width="1.05" stroke-linejoin="round"/><path d="M371.2 127.6V129.35M371.2 127.6L369.8 126.72M371.2 127.6L372.6 126.72" stroke="#988ED5" stroke-width="0.35" fill="none"/><path d="M391.86 123V124.75M391.86 123L390.46 122.12M391.86 123L393.26 122.12" stroke="#988ED5" stroke-width="0.35" fill="none"/><path d="M412.52 123.6V125.35M412.52 123.6L411.12 122.72M412.52 123.6L413.92 122.72" stroke="#988ED5" stroke-width="0.35" fill="none"/><path d="M433.18 124.6V126.35M433.18 124.6L431.78 123.72M433.18 124.6L434.58 123.72" stroke="#988ED5" stroke-width="0.35" fill="none"/><path d="M453.84 124.6V126.35M453.84 124.6L452.44 123.72M453.84 124.6L455.24 123.72" stroke="#988ED5" stroke-width="0.35" fill="none"/><path d="M474.5 124.6V126.35M474.5 124.6L473.1 123.72M474.5 124.6L475.9 123.72" stroke="#988ED5" stroke-width="0.35" fill="none"/><path d="M495.16 126V127.75M495.16 126L493.76 125.12M495.16 126L496.56 125.12" stroke="#988ED5" stroke-width="0.35" fill="none"/><path d="M515.82 129V130.75M515.82 129L514.42 128.12M515.82 129L517.22 128.12" stroke="#988ED5" stroke-width="0.35" fill="none"/><path d="M536.48 134.4V136.15M536.48 134.4L535.08 133.53M536.48 134.4L537.88 133.53" stroke="#988ED5" stroke-width="0.35" fill="none"/>
<polyline points="371.2,122 391.86,122.4 412.52,123.5 433.18,125 453.84,126 474.5,126.3 495.16,127.2 515.82,130.3 536.48,135" fill="none" stroke="#777777" stroke-width="1.05" stroke-linejoin="round"/><path d="M371.2 122V123.75M371.2 122L369.8 121.12M371.2 122L372.6 121.12" stroke="#777777" stroke-width="0.35" fill="none"/><path d="M391.86 122.4V124.15M391.86 122.4L390.46 121.53M391.86 122.4L393.26 121.53" stroke="#777777" stroke-width="0.35" fill="none"/><path d="M412.52 123.5V125.25M412.52 123.5L411.12 122.62M412.52 123.5L413.92 122.62" stroke="#777777" stroke-width="0.35" fill="none"/><path d="M433.18 125V126.75M433.18 125L431.78 124.12M433.18 125L434.58 124.12" stroke="#777777" stroke-width="0.35" fill="none"/><path d="M453.84 126V127.75M453.84 126L452.44 125.12M453.84 126L455.24 125.12" stroke="#777777" stroke-width="0.35" fill="none"/><path d="M474.5 126.3V128.05M474.5 126.3L473.1 125.42M474.5 126.3L475.9 125.42" stroke="#777777" stroke-width="0.35" fill="none"/><path d="M495.16 127.2V128.95M495.16 127.2L493.76 126.33M495.16 127.2L496.56 126.33" stroke="#777777" stroke-width="0.35" fill="none"/><path d="M515.82 130.3V132.05M515.82 130.3L514.42 129.43M515.82 130.3L517.22 129.43" stroke="#777777" stroke-width="0.35" fill="none"/><path d="M536.48 135V136.75M536.48 135L535.08 134.12M536.48 135L537.88 134.12" stroke="#777777" stroke-width="0.35" fill="none"/>
<polyline points="371.2,123.8 391.86,124.4 412.52,127 433.18,127.6 453.84,127.9 474.5,128 495.16,129 515.82,132 536.48,138" fill="none" stroke="#FBC15E" stroke-width="1.05" stroke-linejoin="round"/><circle cx="371.2" cy="123.8" r="1.75" fill="#FBC15E"/><circle cx="391.86" cy="124.4" r="1.75" fill="#FBC15E"/><circle cx="412.52" cy="127" r="1.75" fill="#FBC15E"/><circle cx="433.18" cy="127.6" r="1.75" fill="#FBC15E"/><circle cx="453.84" cy="127.9" r="1.75" fill="#FBC15E"/><circle cx="474.5" cy="128" r="1.75" fill="#FBC15E"/><circle cx="495.16" cy="129" r="1.75" fill="#FBC15E"/><circle cx="515.82" cy="132" r="1.75" fill="#FBC15E"/><circle cx="536.48" cy="138" r="1.75" fill="#FBC15E"/>
<polyline points="371.2,89.6 391.86,90.4 412.52,97 433.18,98 453.84,96.4 474.5,97.6 495.16,98.4 515.82,101 536.48,111" fill="none" stroke="#8EBA42" stroke-width="1.05" stroke-linejoin="round"/><rect x="369.45" y="87.85" width="3.5" height="3.5" fill="#8EBA42"/><rect x="390.11" y="88.65" width="3.5" height="3.5" fill="#8EBA42"/><rect x="410.77" y="95.25" width="3.5" height="3.5" fill="#8EBA42"/><rect x="431.43" y="96.25" width="3.5" height="3.5" fill="#8EBA42"/><rect x="452.09" y="94.65" width="3.5" height="3.5" fill="#8EBA42"/><rect x="472.75" y="95.85" width="3.5" height="3.5" fill="#8EBA42"/><rect x="493.41" y="96.65" width="3.5" height="3.5" fill="#8EBA42"/><rect x="514.07" y="99.25" width="3.5" height="3.5" fill="#8EBA42"/><rect x="534.73" y="109.25" width="3.5" height="3.5" fill="#8EBA42"/>
<polyline points="371.2,91.5 391.86,92.3 412.52,96.8 433.18,97.3 453.84,98.6 474.5,99.6 495.16,100.4 515.82,104.4 536.48,113" fill="none" stroke="#FFB5B8" stroke-width="1.05" stroke-linejoin="round"/><polygon points="371.2,89.54 373.06,90.89 372.35,93.09 370.05,93.09 369.34,90.89" fill="#FFB5B8"/><polygon points="391.86,90.34 393.72,91.69 393.01,93.89 390.71,93.89 390,91.69" fill="#FFB5B8"/><polygon points="412.52,94.84 414.38,96.19 413.67,98.39 411.37,98.39 410.66,96.19" fill="#FFB5B8"/><polygon points="433.18,95.34 435.04,96.69 434.33,98.89 432.03,98.89 431.32,96.69" fill="#FFB5B8"/><polygon points="453.84,96.64 455.7,97.99 454.99,100.19 452.69,100.19 451.98,97.99" fill="#FFB5B8"/><polygon points="474.5,97.64 476.36,98.99 475.65,101.19 473.35,101.19 472.64,98.99" fill="#FFB5B8"/><polygon points="495.16,98.44 497.02,99.79 496.31,101.99 494.01,101.99 493.3,99.79" fill="#FFB5B8"/><polygon points="515.82,102.44 517.68,103.79 516.97,105.99 514.67,105.99 513.96,103.79" fill="#FFB5B8"/><polygon points="536.48,111.04 538.34,112.39 537.63,114.59 535.33,114.59 534.62,112.39" fill="#FFB5B8"/>
<polyline points="371.2,93 391.86,93.6 412.52,97.9 433.18,99.2 453.84,100.4 474.5,101.6 495.16,102.4 515.82,106.4 536.48,114.4" fill="none" stroke="#E24A33" stroke-width="1.05" stroke-linejoin="round"/><polygon points="371.2,90.81 373.39,93 371.2,95.19 369.01,93" fill="#E24A33"/><polygon points="391.86,91.41 394.05,93.6 391.86,95.79 389.67,93.6" fill="#E24A33"/><polygon points="412.52,95.71 414.71,97.9 412.52,100.09 410.33,97.9" fill="#E24A33"/><polygon points="433.18,97.01 435.37,99.2 433.18,101.39 430.99,99.2" fill="#E24A33"/><polygon points="453.84,98.21 456.03,100.4 453.84,102.59 451.65,100.4" fill="#E24A33"/><polygon points="474.5,99.41 476.69,101.6 474.5,103.79 472.31,101.6" fill="#E24A33"/><polygon points="495.16,100.21 497.35,102.4 495.16,104.59 492.97,102.4" fill="#E24A33"/><polygon points="515.82,104.21 518.01,106.4 515.82,108.59 513.63,106.4" fill="#E24A33"/><polygon points="536.48,112.21 538.67,114.4 536.48,116.59 534.29,114.4" fill="#E24A33"/>
<polyline points="371.2,98.4 391.86,98.7 412.52,103 433.18,104.4 453.84,105 474.5,105.4 495.16,106 515.82,110.4 536.48,118.4" fill="none" stroke="#348ABD" stroke-width="1.05" stroke-linejoin="round"/><circle cx="371.2" cy="98.4" r="1.22" fill="#348ABD"/><circle cx="391.86" cy="98.7" r="1.22" fill="#348ABD"/><circle cx="412.52" cy="103" r="1.22" fill="#348ABD"/><circle cx="433.18" cy="104.4" r="1.22" fill="#348ABD"/><circle cx="453.84" cy="105" r="1.22" fill="#348ABD"/><circle cx="474.5" cy="105.4" r="1.22" fill="#348ABD"/><circle cx="495.16" cy="106" r="1.22" fill="#348ABD"/><circle cx="515.82" cy="110.4" r="1.22" fill="#348ABD"/><circle cx="536.48" cy="118.4" r="1.22" fill="#348ABD"/>
<polyline points="371.2,104 391.86,104.4 412.52,108 433.18,109 453.84,110 474.5,110.6 495.16,111.6 515.82,114.6 536.48,122.4" fill="none" stroke="#988ED5" stroke-width="1.05" stroke-linejoin="round"/><circle cx="371.2" cy="104" r="1.75" fill="#988ED5"/><circle cx="391.86" cy="104.4" r="1.75" fill="#988ED5"/><circle cx="412.52" cy="108" r="1.75" fill="#988ED5"/><circle cx="433.18" cy="109" r="1.75" fill="#988ED5"/><circle cx="453.84" cy="110" r="1.75" fill="#988ED5"/><circle cx="474.5" cy="110.6" r="1.75" fill="#988ED5"/><circle cx="495.16" cy="111.6" r="1.75" fill="#988ED5"/><circle cx="515.82" cy="114.6" r="1.75" fill="#988ED5"/><circle cx="536.48" cy="122.4" r="1.75" fill="#988ED5"/>
<polyline points="371.2,107.6 391.86,107.6 412.52,111 433.18,112 453.84,112.8 474.5,113.4 495.16,114.6 515.82,117.8 536.48,126.2" fill="none" stroke="#777777" stroke-width="1.05" stroke-linejoin="round"/><circle cx="371.2" cy="107.6" r="1.75" fill="#777777"/><circle cx="391.86" cy="107.6" r="1.75" fill="#777777"/><circle cx="412.52" cy="111" r="1.75" fill="#777777"/><circle cx="433.18" cy="112" r="1.75" fill="#777777"/><circle cx="453.84" cy="112.8" r="1.75" fill="#777777"/><circle cx="474.5" cy="113.4" r="1.75" fill="#777777"/><circle cx="495.16" cy="114.6" r="1.75" fill="#777777"/><circle cx="515.82" cy="117.8" r="1.75" fill="#777777"/><circle cx="536.48" cy="126.2" r="1.75" fill="#777777"/>
<polyline points="371.2,90.6 391.86,91.4 412.52,96.5 433.18,97.8 453.84,97.6 474.5,98.6 495.16,99.4 515.82,103 536.48,112.4" fill="none" stroke="#FBC15E" stroke-width="1.05" stroke-linejoin="round"/><path d="M369.45 90.6H372.95M371.2 88.85V92.35" stroke="#FBC15E" stroke-width="0.4" fill="none"/><path d="M390.11 91.4H393.61M391.86 89.65V93.15" stroke="#FBC15E" stroke-width="0.4" fill="none"/><path d="M410.77 96.5H414.27M412.52 94.75V98.25" stroke="#FBC15E" stroke-width="0.4" fill="none"/><path d="M431.43 97.8H434.93M433.18 96.05V99.55" stroke="#FBC15E" stroke-width="0.4" fill="none"/><path d="M452.09 97.6H455.59M453.84 95.85V99.35" stroke="#FBC15E" stroke-width="0.4" fill="none"/><path d="M472.75 98.6H476.25M474.5 96.85V100.35" stroke="#FBC15E" stroke-width="0.4" fill="none"/><path d="M493.41 99.4H496.91M495.16 97.65V101.15" stroke="#FBC15E" stroke-width="0.4" fill="none"/><path d="M514.07 103H517.57M515.82 101.25V104.75" stroke="#FBC15E" stroke-width="0.4" fill="none"/><path d="M534.73 112.4H538.23M536.48 110.65V114.15" stroke="#FBC15E" stroke-width="0.4" fill="none"/>
<polyline points="371.2,113.8 391.86,113.3 412.52,117 433.18,118.2 453.84,118.3 474.5,119 495.16,119.8 515.82,122.4 536.48,126.4" fill="none" stroke="#8EBA42" stroke-width="1.05" stroke-linejoin="round"/><path d="M369.8 112.4L372.6 115.2M369.8 115.2L372.6 112.4" stroke="#8EBA42" stroke-width="0.5" fill="none"/><path d="M390.46 111.9L393.26 114.7M390.46 114.7L393.26 111.9" stroke="#8EBA42" stroke-width="0.5" fill="none"/><path d="M411.12 115.6L413.92 118.4M411.12 118.4L413.92 115.6" stroke="#8EBA42" stroke-width="0.5" fill="none"/><path d="M431.78 116.8L434.58 119.6M431.78 119.6L434.58 116.8" stroke="#8EBA42" stroke-width="0.5" fill="none"/><path d="M452.44 116.9L455.24 119.7M452.44 119.7L455.24 116.9" stroke="#8EBA42" stroke-width="0.5" fill="none"/><path d="M473.1 117.6L475.9 120.4M473.1 120.4L475.9 117.6" stroke="#8EBA42" stroke-width="0.5" fill="none"/><path d="M493.76 118.4L496.56 121.2M493.76 121.2L496.56 118.4" stroke="#8EBA42" stroke-width="0.5" fill="none"/><path d="M514.42 121L517.22 123.8M514.42 123.8L517.22 121" stroke="#8EBA42" stroke-width="0.5" fill="none"/><path d="M535.08 125L537.88 127.8M535.08 127.8L537.88 125" stroke="#8EBA42" stroke-width="0.5" fill="none"/>
<polyline points="371.2,118.4 391.86,119.4 412.52,120.5 433.18,121.3 453.84,120.4 474.5,121 495.16,121.6 515.82,124.4 536.48,130" fill="none" stroke="#FFB5B8" stroke-width="1.05" stroke-linejoin="round"/><polygon points="371.89,116.32 371.89,117.71 373.28,117.71 373.28,119.09 371.89,119.09 371.89,120.48 370.51,120.48 370.51,119.09 369.12,119.09 369.12,117.71 370.51,117.71 370.51,116.32" fill="#FFB5B8"/><polygon points="392.55,117.32 392.55,118.71 393.94,118.71 393.94,120.09 392.55,120.09 392.55,121.48 391.17,121.48 391.17,120.09 389.78,120.09 389.78,118.71 391.17,118.71 391.17,117.32" fill="#FFB5B8"/><polygon points="413.21,118.42 413.21,119.81 414.6,119.81 414.6,121.19 413.21,121.19 413.21,122.58 411.83,122.58 411.83,121.19 410.44,121.19 410.44,119.81 411.83,119.81 411.83,118.42" fill="#FFB5B8"/><polygon points="433.87,119.22 433.87,120.61 435.26,120.61 435.26,121.99 433.87,121.99 433.87,123.38 432.49,123.38 432.49,121.99 431.1,121.99 431.1,120.61 432.49,120.61 432.49,119.22" fill="#FFB5B8"/><polygon points="454.53,118.32 454.53,119.71 455.92,119.71 455.92,121.09 454.53,121.09 454.53,122.48 453.15,122.48 453.15,121.09 451.76,121.09 451.76,119.71 453.15,119.71 453.15,118.32" fill="#FFB5B8"/><polygon points="475.19,118.92 475.19,120.31 476.58,120.31 476.58,121.69 475.19,121.69 475.19,123.08 473.81,123.08 473.81,121.69 472.42,121.69 472.42,120.31 473.81,120.31 473.81,118.92" fill="#FFB5B8"/><polygon points="495.85,119.52 495.85,120.91 497.24,120.91 497.24,122.29 495.85,122.29 495.85,123.68 494.47,123.68 494.47,122.29 493.08,122.29 493.08,120.91 494.47,120.91 494.47,119.52" fill="#FFB5B8"/><polygon points="516.51,122.32 516.51,123.71 517.9,123.71 517.9,125.09 516.51,125.09 516.51,126.48 515.13,126.48 515.13,125.09 513.74,125.09 513.74,123.71 515.13,123.71 515.13,122.32" fill="#FFB5B8"/><polygon points="537.17,127.92 537.17,129.31 538.56,129.31 538.56,130.69 537.17,130.69 537.17,132.08 535.79,132.08 535.79,130.69 534.4,130.69 534.4,129.31 535.79,129.31 535.79,127.92" fill="#FFB5B8"/>
<polyline points="371.2,117.6 391.86,118.3 412.52,120.5 433.18,122 453.84,122.3 474.5,122.8 495.16,123.5 515.82,126.2 536.48,133.6" fill="none" stroke="#E24A33" stroke-width="1.05" stroke-linejoin="round"/><polygon points="371.2,115.41 372.6,117.6 371.2,119.79 369.8,117.6" fill="#E24A33"/><polygon points="391.86,116.11 393.26,118.3 391.86,120.49 390.46,118.3" fill="#E24A33"/><polygon points="412.52,118.31 413.92,120.5 412.52,122.69 411.12,120.5" fill="#E24A33"/><polygon points="433.18,119.81 434.58,122 433.18,124.19 431.78,122" fill="#E24A33"/><polygon points="453.84,120.11 455.24,122.3 453.84,124.49 452.44,122.3" fill="#E24A33"/><polygon points="474.5,120.61 475.9,122.8 474.5,124.99 473.1,122.8" fill="#E24A33"/><polygon points="495.16,121.31 496.56,123.5 495.16,125.69 493.76,123.5" fill="#E24A33"/><polygon points="515.82,124.01 517.22,126.2 515.82,128.39 514.42,126.2" fill="#E24A33"/><polygon points="536.48,131.41 537.88,133.6 536.48,135.79 535.08,133.6" fill="#E24A33"/>
<polyline points="371.2,115.8 391.86,116.2 412.52,119 433.18,120.2 453.84,120.6 474.5,121.2 495.16,121.8 515.82,124.6 536.48,130.5" fill="none" stroke="#348ABD" stroke-width="1.05" stroke-linejoin="round"/>
<polyline points="371.2,104.5 391.86,104.9 412.52,108.9 433.18,110.5 453.84,111.4 474.5,111.8 495.16,112.6 515.82,116 536.48,123" fill="none" stroke="#988ED5" stroke-width="1.05" stroke-linejoin="round"/><path d="M371.2 102.75V106.25" stroke="#988ED5" stroke-width="0.5" fill="none"/><path d="M391.86 103.15V106.65" stroke="#988ED5" stroke-width="0.5" fill="none"/><path d="M412.52 107.15V110.65" stroke="#988ED5" stroke-width="0.5" fill="none"/><path d="M433.18 108.75V112.25" stroke="#988ED5" stroke-width="0.5" fill="none"/><path d="M453.84 109.65V113.15" stroke="#988ED5" stroke-width="0.5" fill="none"/><path d="M474.5 110.05V113.55" stroke="#988ED5" stroke-width="0.5" fill="none"/><path d="M495.16 110.85V114.35" stroke="#988ED5" stroke-width="0.5" fill="none"/><path d="M515.82 114.25V117.75" stroke="#988ED5" stroke-width="0.5" fill="none"/><path d="M536.48 121.25V124.75" stroke="#988ED5" stroke-width="0.5" fill="none"/>
<polyline points="371.2,95 391.86,95.6 412.52,100.5 433.18,103.8 453.84,102.8 474.5,103.6 495.16,104 515.82,108 536.48,115.6" fill="none" stroke="#777777" stroke-width="1.05" stroke-linejoin="round"/>
<polyline points="371.2,110.6 391.86,110.8 412.52,114.6 433.18,115.6 453.84,116.2 474.5,116.6 495.16,117.6 515.82,120 536.48,125.6" fill="none" stroke="#FBC15E" stroke-width="1.05" stroke-linejoin="round"/><circle cx="371.2" cy="110.6" r="1.05" fill="#FBC15E"/><circle cx="391.86" cy="110.8" r="1.05" fill="#FBC15E"/><circle cx="412.52" cy="114.6" r="1.05" fill="#FBC15E"/><circle cx="433.18" cy="115.6" r="1.05" fill="#FBC15E"/><circle cx="453.84" cy="116.2" r="1.05" fill="#FBC15E"/><circle cx="474.5" cy="116.6" r="1.05" fill="#FBC15E"/><circle cx="495.16" cy="117.6" r="1.05" fill="#FBC15E"/><circle cx="515.82" cy="120" r="1.05" fill="#FBC15E"/><circle cx="536.48" cy="125.6" r="1.05" fill="#FBC15E"/>
</g>
<g class="ax" font-family="'DejaVu Sans','Liberation Sans',sans-serif" fill="#555">
<g font-size="5.4" text-anchor="middle">
<text x="371.2" y="156.75">0</text>
<text x="391.86" y="156.75">10</text>
<text x="412.52" y="156.75">20</text>
<text x="433.18" y="156.75">30</text>
<text x="453.84" y="156.75">40</text>
<text x="474.5" y="156.75">50</text>
<text x="495.16" y="156.75">60</text>
<text x="515.82" y="156.75">70</text>
<text x="536.48" y="156.75">80</text>
</g><g font-size="5.4" text-anchor="end">
<text x="359.4" y="150.6">0.00</text>
<text x="359.4" y="121.28">0.05</text>
<text x="359.4" y="91.96">0.10</text>
<text x="359.4" y="62.64">0.15</text>
<text x="359.4" y="33.32">0.20</text>
</g>
<text x="453.9" y="164.31" font-size="6.1" text-anchor="middle">angle(°)</text>
<text transform="translate(344.8 82.3) rotate(-90)" font-size="6.1" text-anchor="middle">Intensity(V)</text>
<text x="453.9" y="10.54" font-size="5.3" text-anchor="middle" fill="#111" class="tt">Magnolia denudate</text>
</g>
<g font-family="'Liberation Serif',serif" font-weight="bold" font-size="12.8" letter-spacing="0.45" text-anchor="middle" fill="#111">
<text x="115.4" y="206.8">(m)</text><text x="451.3" y="206.8">(n)</text></g>
<rect x="15.7" y="234" width="516.8" height="40.2" fill="#EAEAEA"/>
<g font-family="'DejaVu Sans','Liberation Sans',sans-serif" font-size="6.85" fill="#111">
<path d="M21 243.2h15" stroke="#E24A33" stroke-width="0.75"/>
<circle cx="28.5" cy="243.2" r="0.9" fill="#E24A33"/>
<text class="lt" x="41.2" y="245.7">650nm</text>
<path d="M21 253.5h15" stroke="#348ABD" stroke-width="0.75"/>

<text class="lt" x="41.2" y="256">660nm</text>
<path d="M21 263.8h15" stroke="#988ED5" stroke-width="0.75"/>
<circle cx="28.5" cy="263.8" r="1.5" fill="#988ED5"/>
<text class="lt" x="41.2" y="266.3">670nm</text>
<path d="M78.7 243.2h15" stroke="#777777" stroke-width="0.75"/>
<polygon points="84.52,241.52 87.88,241.52 86.2,244.88" fill="#777777"/>
<text class="lt" x="98.9" y="245.7">680nm</text>
<path d="M78.7 253.5h15" stroke="#FBC15E" stroke-width="0.75"/>
<polygon points="84.52,255.18 87.88,255.18 86.2,251.82" fill="#FBC15E"/>
<text class="lt" x="98.9" y="256">690nm</text>
<path d="M78.7 263.8h15" stroke="#8EBA42" stroke-width="0.75"/>
<polygon points="87.88,262.12 87.88,265.48 84.52,263.8" fill="#8EBA42"/>
<text class="lt" x="98.9" y="266.3">700nm</text>
<path d="M136.4 243.2h15" stroke="#FFB5B8" stroke-width="0.75"/>
<polygon points="142.22,241.52 142.22,244.88 145.58,243.2" fill="#FFB5B8"/>
<text class="lt" x="156.6" y="245.7">710nm</text>
<path d="M136.4 253.5h15" stroke="#E24A33" stroke-width="0.75"/>
<path d="M143.9 253.5V255M143.9 253.5L142.7 252.75M143.9 253.5L145.1 252.75" stroke="#E24A33" stroke-width="0.35" fill="none"/>
<text class="lt" x="156.6" y="256">720nm</text>
<path d="M136.4 263.8h15" stroke="#348ABD" stroke-width="0.75"/>
<path d="M143.9 263.8V265.3M143.9 263.8L142.7 263.05M143.9 263.8L145.1 263.05" stroke="#348ABD" stroke-width="0.35" fill="none"/>
<text class="lt" x="156.6" y="266.3">730nm</text>
<path d="M194.1 243.2h15" stroke="#988ED5" stroke-width="0.75"/>
<path d="M201.6 243.2V244.7M201.6 243.2L200.4 242.45M201.6 243.2L202.8 242.45" stroke="#988ED5" stroke-width="0.35" fill="none"/>
<text class="lt" x="214.3" y="245.7">740nm</text>
<path d="M194.1 253.5h15" stroke="#777777" stroke-width="0.75"/>
<path d="M201.6 253.5V255M201.6 253.5L200.4 252.75M201.6 253.5L202.8 252.75" stroke="#777777" stroke-width="0.35" fill="none"/>
<text class="lt" x="214.3" y="256">750nm</text>
<path d="M194.1 263.8h15" stroke="#FBC15E" stroke-width="0.75"/>
<circle cx="201.6" cy="263.8" r="1.5" fill="#FBC15E"/>
<text class="lt" x="214.3" y="266.3">760nm</text>
<path d="M251.8 243.2h15" stroke="#8EBA42" stroke-width="0.75"/>
<rect x="257.8" y="241.7" width="3" height="3" fill="#8EBA42"/>
<text class="lt" x="272" y="245.7">770nm</text>
<path d="M251.8 253.5h15" stroke="#FFB5B8" stroke-width="0.75"/>
<polygon points="259.3,251.82 260.9,252.98 260.29,254.86 258.31,254.86 257.7,252.98" fill="#FFB5B8"/>
<text class="lt" x="272" y="256">780nm</text>
<path d="M251.8 263.8h15" stroke="#E24A33" stroke-width="0.75"/>
<polygon points="259.3,261.93 261.18,263.8 259.3,265.68 257.43,263.8" fill="#E24A33"/>
<text class="lt" x="272" y="266.3">790nm</text>
<path d="M309.5 243.2h15" stroke="#348ABD" stroke-width="0.75"/>
<circle cx="317" cy="243.2" r="1.05" fill="#348ABD"/>
<text class="lt" x="329.7" y="245.7">800nm</text>
<path d="M309.5 253.5h15" stroke="#988ED5" stroke-width="0.75"/>
<circle cx="317" cy="253.5" r="1.5" fill="#988ED5"/>
<text class="lt" x="329.7" y="256">810nm</text>
<path d="M309.5 263.8h15" stroke="#777777" stroke-width="0.75"/>
<circle cx="317" cy="263.8" r="1.5" fill="#777777"/>
<text class="lt" x="329.7" y="266.3">820nm</text>
<path d="M367.2 243.2h15" stroke="#FBC15E" stroke-width="0.75"/>
<path d="M373.2 243.2H376.2M374.7 241.7V244.7" stroke="#FBC15E" stroke-width="0.4" fill="none"/>
<text class="lt" x="387.4" y="245.7">830nm</text>
<path d="M367.2 253.5h15" stroke="#8EBA42" stroke-width="0.75"/>
<path d="M373.5 252.3L375.9 254.7M373.5 254.7L375.9 252.3" stroke="#8EBA42" stroke-width="0.5" fill="none"/>
<text class="lt" x="387.4" y="256">840nm</text>
<path d="M367.2 263.8h15" stroke="#FFB5B8" stroke-width="0.75"/>
<polygon points="375.29,262.02 375.29,263.21 376.48,263.21 376.48,264.39 375.29,264.39 375.29,265.58 374.11,265.58 374.11,264.39 372.92,264.39 372.92,263.21 374.11,263.21 374.11,262.02" fill="#FFB5B8"/>
<text class="lt" x="387.4" y="266.3">850nm</text>
<path d="M424.9 243.2h15" stroke="#E24A33" stroke-width="0.75"/>
<polygon points="432.4,241.32 433.6,243.2 432.4,245.07 431.2,243.2" fill="#E24A33"/>
<text class="lt" x="445.1" y="245.7">860nm</text>
<path d="M424.9 253.5h15" stroke="#348ABD" stroke-width="0.75"/>

<text class="lt" x="445.1" y="256">870nm</text>
<path d="M424.9 263.8h15" stroke="#988ED5" stroke-width="0.75"/>
<path d="M432.4 262.3V265.3" stroke="#988ED5" stroke-width="0.5" fill="none"/>
<text class="lt" x="445.1" y="266.3">880nm</text>
<path d="M482.6 243.2h15" stroke="#777777" stroke-width="0.75"/>

<text class="lt" x="502.8" y="245.7">890nm</text>
<path d="M482.6 253.5h15" stroke="#FBC15E" stroke-width="0.75"/>
<circle cx="490.1" cy="253.5" r="0.9" fill="#FBC15E"/>
<text class="lt" x="502.8" y="256">900nm</text>
</g>
</svg>
</body></html>
